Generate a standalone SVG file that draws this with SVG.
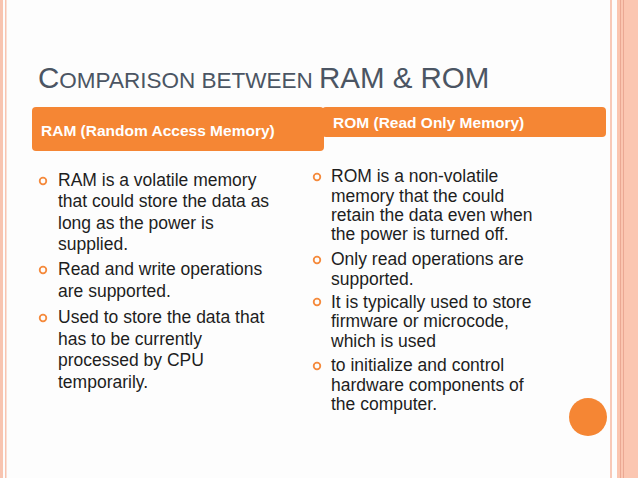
<svg xmlns="http://www.w3.org/2000/svg" width="638" height="478" viewBox="0 0 638 478">
<style>
.b{font-family:"Liberation Sans",Arial,sans-serif;font-size:17.5px;fill:#1e1e1e}
.h{font-family:"Liberation Sans",Arial,sans-serif;font-size:15.5px;font-weight:bold;fill:#fff}
.bul{fill:none;stroke:#f58a3c;stroke-width:1.8}
</style>
<rect width="638" height="478" fill="#fdfdfd"/>
<rect x="0" y="0" width="3" height="478" fill="#f8c4b0"/>
<rect x="5" y="0" width="1.5" height="478" fill="#f8c4b0"/>
<rect x="610" y="0" width="2" height="478" fill="#f8c9b8"/>
<rect x="617" y="0" width="21" height="478" fill="#fbc6b1"/>
<rect x="620" y="0" width="1" height="478" fill="#eba893"/>
<rect x="623" y="0" width="1" height="478" fill="#eba893"/>
<text x="38" y="88" font-family="Liberation Sans,Arial,sans-serif" fill="#4b5563" font-size="29.5">C<tspan font-size="22.5">OMPARISON BETWEEN </tspan>RAM &amp; ROM</text>
<g id="ram-header"><rect x="32" y="107" width="292" height="44" rx="4" fill="#f58634"/><text class="h" x="41" y="136">RAM (Random Access Memory)</text></g>
<g id="rom-header"><rect x="322" y="107" width="284" height="30" rx="4" fill="#f58634"/><text class="h" x="333" y="128">ROM (Read Only Memory)</text></g>
<g id="ram-body">
<circle class="bul" cx="43" cy="181" r="3.3"/><circle class="bul" cx="43" cy="270" r="3.3"/><circle class="bul" cx="43" cy="318" r="3.3"/>
<text class="b" x="58" y="186">RAM is a volatile memory</text>
<text class="b" x="58" y="207">that could store the data as</text>
<text class="b" x="58" y="229">long as the power is</text>
<text class="b" x="58" y="250">supplied.</text>
<text class="b" x="58" y="275">Read and write operations</text>
<text class="b" x="58" y="297">are supported.</text>
<text class="b" x="58" y="323">Used to store the data that</text>
<text class="b" x="58" y="345">has to be currently</text>
<text class="b" x="58" y="366">processed by CPU</text>
<text class="b" x="58" y="388">temporarily.</text>
</g>
<g id="rom-body">
<circle class="bul" cx="317" cy="177" r="3.3"/><circle class="bul" cx="317" cy="260" r="3.3"/><circle class="bul" cx="317" cy="302" r="3.3"/><circle class="bul" cx="317" cy="366" r="3.3"/>
<text class="b" x="331" y="182">ROM is a non-volatile</text>
<text class="b" x="331" y="202">memory that the could</text>
<text class="b" x="331" y="221">retain the data even when</text>
<text class="b" x="331" y="240">the power is turned off.</text>
<text class="b" x="331" y="265">Only read operations are</text>
<text class="b" x="331" y="285">supported.</text>
<text class="b" x="331" y="308">It is typically used to store</text>
<text class="b" x="331" y="327">firmware or microcode,</text>
<text class="b" x="331" y="347">which is used</text>
<text class="b" x="331" y="371">to initialize and control</text>
<text class="b" x="331" y="391">hardware components of</text>
<text class="b" x="331" y="410">the computer.</text>
</g>
<circle cx="588" cy="417" r="19" fill="#f58634"/>
</svg>
